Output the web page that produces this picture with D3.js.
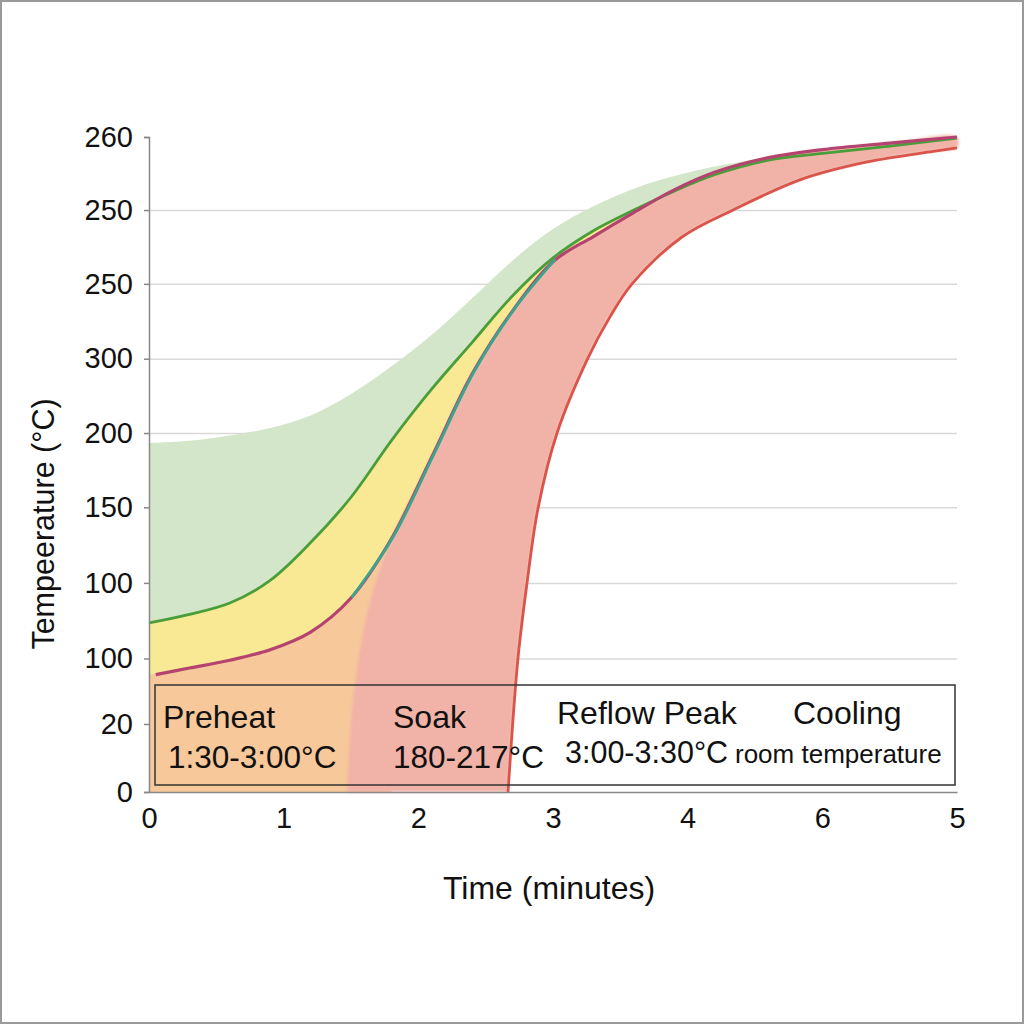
<!DOCTYPE html>
<html>
<head>
<meta charset="utf-8">
<script src="https://cdn.jsdelivr.net/npm/d3@7"></script>
<style>
  body { margin: 0; background: #fff; }
  svg text { font-family: "Liberation Sans", Arial, sans-serif; fill: #111; }
</style>
</head>
<body>
<svg id="chart"></svg>
<script>
// shared time grid (tick units) and curve values
const time = [0, 0.3, 0.6, 0.9, 1.2, 1.5, 1.8, 2.1, 2.4, 2.7, 3.0, 3.3, 3.6, 3.9, 4.2, 4.6, 5.0, 5.5, 6.0];
const greenTop = [138.5, 139.4, 141.5, 144.5, 149.5, 158, 169, 181.5, 196, 211, 223.5, 232.5, 239.5, 244.5, 248.3, 252, 255.3, 258, 260.4];
const greenLine = [67.1, 70.5, 75, 84, 99, 117, 139.5, 160, 178.5, 197, 212, 222.8, 231, 238.5, 245, 250.8, 253.5, 256.4, 259.6];
const magentaLine = [46.6, 49.2, 52.3, 56.5, 63.5, 77, 100.5, 133, 166, 191, 210.5, 220.5, 230, 239, 246, 251.8, 255, 257.6, 260];

// red curve (right edge of the reflow band)
const redT = [2.666, 2.740, 2.807, 2.889, 3.030, 3.260, 3.423, 3.587, 3.958, 4.337, 4.834, 5.332, 5.822, 6.0];
const redV = [0, 53.2, 83.0, 112.7, 142.5, 172.3, 188.6, 201.7, 220.3, 231.0, 243, 250.1, 254.3, 255.7];

// soft left edge of the reflow band
const edgeT = [1.47, 1.515, 1.59, 1.66, 1.74];
const edgeV = [0, 36.5, 63.1, 79, 92.1];

const xTickVals = [0, 1, 2, 3, 4, 5, 6];
const xTickLabels = ['0', '1', '2', '3', '4', '6', '5'];
const yTickVals = [0, 27, 53, 83, 113, 142.5, 172, 201.7, 231, 260];
const yTickLabels = ['0', '20', '100', '100', '150', '200', '300', '250', '250', '260'];

const phases = ['Preheat', 'Soak', 'Reflow Peak', 'Cooling'];
const phaseRanges = ['1:30-3:00°C', '180-217°C', '3:00-3:30°C', 'room temperature'];

const w = 1024, h = 1024;
const plotL = 149, plotR = 957, plotT = 137, plotB = 792;

const svg = d3.select('#chart').attr('width', w).attr('height', h);

svg.append('rect')
  .attr('x', 1).attr('y', 1).attr('width', w - 2).attr('height', h - 2)
  .attr('fill', '#fff').attr('stroke', '#9a9a9a').attr('stroke-width', 2);

const x = d3.scaleLinear().domain([0, 6]).range([plotL, plotR]);
const y = d3.scaleLinear().domain([0, 260]).range([plotB, plotT]);

const defs = svg.append('defs');
defs.append('filter').attr('id', 'soft')
  .attr('x', '-5%').attr('y', '-5%').attr('width', '110%').attr('height', '110%')
  .append('feGaussianBlur').attr('stdDeviation', 1.6);

// gridlines
svg.append('g')
  .attr('transform', `translate(${plotL},0)`)
  .call(d3.axisLeft(y)
    .tickValues(yTickVals.filter(v => v > 30 && v < 250))
    .tickSize(-(plotR - plotL))
    .tickFormat(''))
  .call(g => g.select('.domain').remove())
  .call(g => g.selectAll('line').attr('stroke', '#d9d9d9').attr('stroke-width', 1.5));

const pts = (ts, vs) => ts.map((t, i) => ({ t, v: vs[i] }));
const grid = time.map((t, i) => ({ t, hi: greenTop[i], g: greenLine[i], m: magentaLine[i] }));
const smooth = d3.curveCatmullRom.alpha(0.5);

const area = d3.area().x(d => x(d.t)).curve(smooth);

svg.append('path').datum(grid)
  .attr('fill', '#d4e6c9')
  .attr('d', area.y0(d => y(d.g)).y1(d => y(d.hi)));

svg.append('path').datum(grid)
  .attr('fill', '#f9e994')
  .attr('d', area.y0(d => y(d.m)).y1(d => y(d.g)));

svg.append('path').datum(grid.filter(d => d.t <= 1.8))
  .attr('fill', '#f6c89a')
  .attr('d', area.y0(y(0)).y1(d => y(d.m)));

// reflow band: soft edge, up the magenta curve, back down the red curve
const band = pts(edgeT, edgeV)
  .concat(grid.filter(d => d.t >= 1.8).map(d => ({ t: d.t, v: d.m })))
  .concat(pts(redT, redV).reverse());

const line = d3.line().x(d => x(d.t)).y(d => y(d.v)).curve(smooth);

svg.append('path')
  .attr('fill', '#f1b2a7')
  .attr('filter', 'url(#soft)')
  .attr('d', line(band) + 'Z');

svg.append('path').datum(pts(time, greenLine))
  .attr('fill', 'none').attr('stroke', '#4a9e3a').attr('stroke-width', 2.8)
  .attr('d', line);

svg.append('path').datum(pts(time, magentaLine).map((d, i) => i === 0 ? { t: 0.05, v: d.v } : d))
  .attr('fill', 'none').attr('stroke', '#b4446f').attr('stroke-width', 3.2)
  .attr('d', line);

svg.append('path').datum(pts(time, magentaLine).filter(d => d.t >= 1.5 && d.t <= 3.0))
  .attr('fill', 'none').attr('stroke', '#3aa58e').attr('stroke-width', 2.8)
  .attr('stroke-linecap', 'round')
  .attr('transform', 'translate(1.5,-1.5)')
  .attr('d', line);

svg.append('path').datum(pts(redT, redV))
  .attr('fill', 'none').attr('stroke', '#d9544a').attr('stroke-width', 2.8)
  .attr('d', line);

// axes
svg.append('g')
  .attr('transform', `translate(${plotL},0)`)
  .call(d3.axisLeft(y).tickValues(yTickVals).tickSize(5).tickPadding(11)
    .tickFormat((d, i) => yTickLabels[i]))
  .call(g => g.select('.domain').attr('stroke', '#888').attr('stroke-width', 1.5))
  .call(g => g.selectAll('.tick line').attr('stroke', '#888').attr('stroke-width', 1.5))
  .call(g => g.selectAll('.tick text').attr('font-size', 29).attr('fill', '#111'));

svg.append('g')
  .attr('transform', `translate(0,${plotB})`)
  .call(d3.axisBottom(x).tickValues(xTickVals).tickSize(0).tickPadding(15)
    .tickFormat((d, i) => xTickLabels[i]))
  .call(g => g.select('.domain').attr('stroke', '#888').attr('stroke-width', 1.5))
  .call(g => g.selectAll('.tick text').attr('font-size', 29).attr('fill', '#111'));

svg.append('text')
  .attr('transform', 'translate(54,524) rotate(-90)')
  .attr('text-anchor', 'middle')
  .attr('font-size', 30.5)
  .text('Tempeerature (°C)');

svg.append('text')
  .attr('x', 549).attr('y', 899)
  .attr('text-anchor', 'middle')
  .attr('font-size', 32)
  .text('Time (minutes)');

// phase legend box
svg.append('rect')
  .attr('x', 155).attr('y', 685).attr('width', 800).attr('height', 100)
  .attr('fill', 'none').attr('stroke', '#333').attr('stroke-width', 1.5);

const phaseX = [163, 393, 557, 793];
const rangeX = [168, 393, 565, 735];
const legend = svg.append('g');
legend.selectAll('text.phase').data(phases).enter().append('text')
  .attr('class', 'phase')
  .attr('x', (d, i) => phaseX[i])
  .attr('y', (d, i) => i < 2 ? 728 : 724)
  .attr('font-size', 32)
  .text(d => d);
legend.selectAll('text.range').data(phaseRanges).enter().append('text')
  .attr('class', 'range')
  .attr('x', (d, i) => rangeX[i])
  .attr('y', (d, i) => i < 2 ? 768 : 763)
  .attr('font-size', (d, i) => i === 3 ? 26 : (i === 2 ? 30.5 : 31.5))
  .text(d => d);
</script>
</body>
</html>
